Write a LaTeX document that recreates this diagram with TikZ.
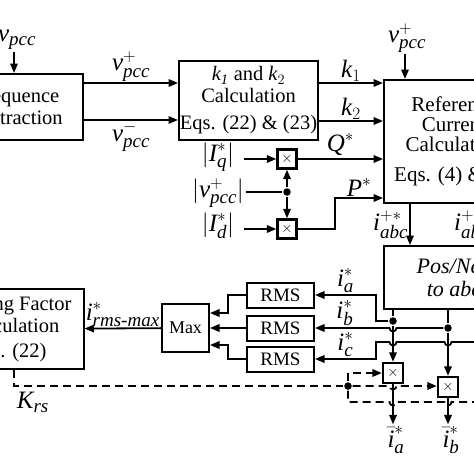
\documentclass[tikz,border=0pt]{standalone}
\usepackage{fontspec}
\setmainfont{Liberation Serif}
\usepackage{amsmath}
\usetikzlibrary{arrows.meta,calc}
\newcommand{\itx}[1]{\textit{#1}}
\DeclareMathSizes{25}{25}{19}{14}

\begin{document}
\begin{tikzpicture}[x=1pt,y=-1pt,line width=1.8pt,>={Triangle[length=9.5pt,width=7.5pt]}]
  \tikzstyle{point} = [coordinate]
  \tikzstyle{box} = [rectangle, draw, line width=2pt, align=center, inner sep=0pt, font=\fontsize{20.5}{22}\selectfont]
  \tikzstyle{small} = [box, font=\fontsize{19}{20}\selectfont]
  \tikzstyle{mul} = [rectangle, draw, line width=2.4pt, minimum size=19pt, inner sep=0pt, font=\fontsize{14}{14}\selectfont]
  \tikzstyle{lbl} = [font=\fontsize{25}{28}\selectfont, inner sep=1pt]
  \tikzstyle{dot} = [circle, fill, inner sep=0pt, minimum size=7.5pt]
  \tikzstyle{dashline} = [dash pattern=on 8pt off 5pt]
  \useasboundingbox (0,0) rectangle (474,474);

  % blocks
  \node (seq) [box, minimum width=126pt, minimum height=66pt] at (20,107) {Sequence\\Extraction};
  \node (kcalc) [box, minimum width=139pt, minimum height=79pt] at (248.5,100.5) {$\itx{k}_{\itx{1}}$ and $\itx{k}_{2}$\\Calculation\\[5pt]Eqs. (22) \& (23)};
  \node (refcalc) [box, minimum width=140pt, minimum height=123pt, font=\fontsize{21}{20}\selectfont] at (454,141.5) {Reference\\Current\\Calculation\\[10pt]Eqs. (4) \& (5)};
  \node (posneg) [box, minimum width=140pt, minimum height=63pt, font=\fontsize{22}{23}\selectfont\itshape] at (454,277.5) {Pos/Neg\\to abc};
  \node (scale) [box, minimum width=143pt, minimum height=80pt] at (12,329) {Scaling Factor\\Calculation\\[3pt]Eq. (22)};
  \node (maxb) [small, font=\fontsize{18}{20}\selectfont, minimum width=47pt, minimum height=48pt] at (185.5,328) {Max};
  \node (rms1) [small, minimum width=67pt, minimum height=25pt] at (280.5,295) {RMS};
  \node (rms2) [small, minimum width=67pt, minimum height=25pt] at (280.5,328) {RMS};
  \node (rms3) [small, minimum width=67pt, minimum height=25pt] at (280.5,359) {RMS};
  \node (mulq) [mul] at (287,159) {$\times$};
  \node (muld) [mul] at (287,229) {$\times$};
  \node (mula) [mul, minimum size=20pt] at (393,373) {$\times$};
  \node (mulb) [mul, minimum size=20pt] at (448,387) {$\times$};

  % inputs and outputs
  \node (vin) [lbl] at (17,40) {$\itx{v}_{\itx{pcc}}$};
  \node (vref) [lbl] at (407,38) {$\itx{v}^{+}_{\itx{pcc}}$};
  \node (Iq) [lbl] at (218,157) {$|\itx{I}^{*}_{\itx{q}}|$};
  \node (vpos) [lbl] at (218,193) {$|\itx{v}^{+}_{\itx{pcc}}|$};
  \node (Id) [lbl] at (218,226) {$|\itx{I}^{*}_{\itx{d}}|$};
  \node (oa) [lbl] at (396,440) {$\bar{\itx{i}}^{*}_{\itx{a}}$};
  \node (ob) [lbl] at (451,440) {$\bar{\itx{i}}^{*}_{\itx{b}}$};

  % junctions
  \node (dv) [dot] at (287,192) {};
  \node (da) [dot] at (393,321) {};
  \node (db) [dot] at (448,328) {};
  \node (dk) [dot] at (348,386) {};
  \node (pb) [point] at (335,198) {};
  \node (ja) [point] at (376,295) {};
  \node (jc) [point] at (376,342) {};
  \node (mx1) [point] at (228,313) {};
  \node (mx3) [point] at (228,345) {};
  \node (ks) [point] at (14,386) {};
  \node (lw) [point] at (520,402) {};

  % sequence and k calculation
  \draw[->] (vin.south -| 14,0) -- (seq.north -| 14,0);
  \draw[->] (seq.east |- 0,83) -- node[lbl, above]{$\itx{v}^{+}_{\itx{pcc}}$} (kcalc.west |- 0,83);
  \draw[->] (seq.east |- 0,120) -- node[lbl, below]{$\itx{v}^{-}_{\itx{pcc}}$} (kcalc.west |- 0,120);
  \draw[->] (kcalc.east |- 0,83) -- node[lbl, above]{$\itx{k}_{1}$} (refcalc.west |- 0,83);
  \draw[->] (kcalc.east |- 0,121) -- node[lbl, above]{$\itx{k}_{2}$} (refcalc.west |- 0,121);

  % power references
  \draw[->, shorten <=8pt] (Iq.east |- mulq) -- (mulq);
  \draw[->, shorten <=8pt] (Id.east |- muld) -- (muld);
  \draw (vpos.east |- dv) -- (dv);
  \draw[->] (dv) -- (mulq);
  \draw[->] (dv) -- (muld);
  \draw[->] (mulq) -- node[lbl, above, yshift=2pt]{$\itx{Q}^{*}$} (refcalc.west |- mulq);
  \draw[->] (muld) -| (pb) -- node[lbl, above]{$\itx{P}^{*}$} (refcalc.west |- pb);

  % reference currents
  \draw[->] (vref.south -| 405,0) -- (refcalc.north -| 405,0);
  \draw[->] (refcalc.south -| 410,0) -- node[lbl, left]{$\itx{i}^{+*}_{\itx{abc}}$} (posneg.north -| 410,0);
  \draw[->] (refcalc.south -| 491,0) -- node[lbl, left]{$\itx{i}^{+*}_{\itx{abc}}$} (posneg.north -| 491,0);
  \draw (posneg.south -| da) -- (da);
  \draw (posneg.south -| db) -- (db);
  \draw[->] (da) -- (mula);
  \draw[->] (db) -- (mulb);
  \draw[->] (da) -| (ja) -- node[lbl, above]{$\itx{i}^{*}_{\itx{a}}$} (rms1.east);
  \draw[->] (db) -- ($(da |- db)+(3.5pt,0)$) arc[start angle=0, end angle=-180, radius=3.5pt]
    -- node[lbl, above, pos=0.6]{$\itx{i}^{*}_{\itx{b}}$} (rms2.east);
  \draw[->] (posneg.south -| 503,0) |- ($(db |- jc)+(3.5pt,0)$) arc[start angle=0, end angle=-180, radius=3.5pt]
    -- ($(da |- jc)+(3.5pt,0)$) arc[start angle=0, end angle=-180, radius=3.5pt]
    -- (jc) |- node[lbl, above, pos=0.75]{$\itx{i}^{*}_{\itx{c}}$} (rms3.east);

  % rms and max
  \draw[->] (rms1.west) -| (mx1) -- (maxb.east |- mx1);
  \draw[->] (rms2) -- (maxb);
  \draw[->] (rms3.west) -| (mx3) -- (maxb.east |- mx3);
  \draw[->] (maxb) -- node[lbl, above]{$\itx{i}^{*}_{\itx{rms-max}}$} (scale);

  % scaling factor
  \draw[dashline] (scale.south -| ks) -- (ks) node[lbl, below right, xshift=1pt, yshift=-4pt]{$\itx{K}_{\itx{rs}}$} -- (dk);
  \draw[dashline, ->] (dk) |- (mula);
  \draw[dashline, ->] (dk) -- ($(da |- dk)-(3.5pt,0)$) arc[start angle=180, end angle=360, radius=3.5pt] -- (mulb.west |- dk);
  \draw[dashline] (dk) |- ($(da |- lw)-(3.5pt,0)$) arc[start angle=180, end angle=360, radius=3.5pt]
    -- ($(db |- lw)-(3.5pt,0)$) arc[start angle=180, end angle=360, radius=3.5pt] -- (lw);
  \draw[->] (mula) -- (mula |- oa.north);
  \draw[->] (mulb) -- (mulb |- ob.north);
\end{tikzpicture}
\end{document}
